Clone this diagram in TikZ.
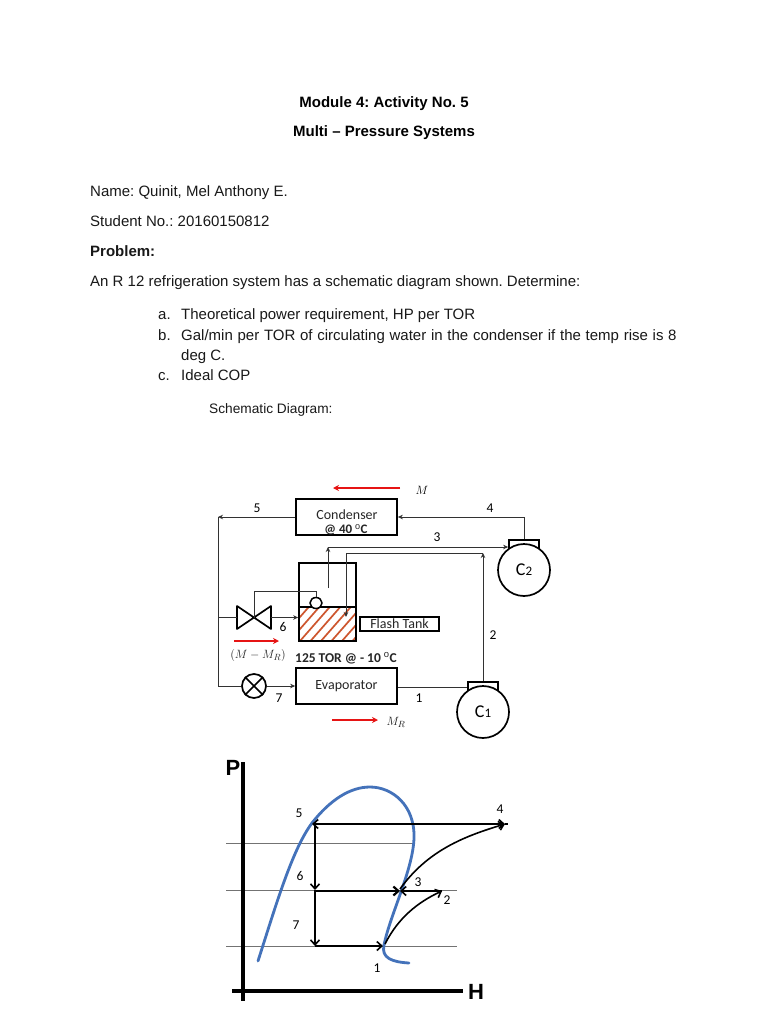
\documentclass[tikz,border=0pt]{standalone}
\usepackage{fontspec}
\setmainfont{Liberation Sans}
\newfontfamily\calfnt{Carlito}
\usetikzlibrary{arrows.meta,calc,shapes.geometric}
\definecolor{hatchc}{RGB}{205,85,45}
\definecolor{bluec}{RGB}{68,114,186}
\definecolor{redc}{RGB}{230,20,20}
\definecolor{linec}{RGB}{50,50,50}
\definecolor{txtc}{RGB}{25,25,25}
\frenchspacing
\tikzset{
 para/.style={anchor=base west,inner sep=0pt,font=\fontsize{15}{17}\selectfont,text=txtc},
 head/.style={anchor=base,inner sep=0pt,font=\fontsize{15}{17}\selectfont\bfseries,text=black},
 unitbox/.style={draw=black,line width=1.7pt,minimum width=101pt,minimum height=36pt,inner sep=0pt,font=\calfnt\fontsize{14}{14}\selectfont,text=black!85},
 lab/.style={inner sep=0pt,font=\calfnt\fontsize{13.5}{13.5}\selectfont,text=black},
 pipe/.style={draw=linec,line width=0.9pt},
 pipea/.style={pipe,-{Stealth[length=5pt,width=4.5pt]}},
 comp/.style={circle,draw=black,line width=1.7pt,minimum size=52pt,inner sep=0pt,font=\calfnt\fontsize{18}{18}\selectfont},
 capbox/.style={draw=black,line width=1.7pt,inner sep=0pt,minimum width=30pt,minimum height=10pt},
 redarrow/.style={draw=redc,line width=1.5pt,-{Stealth[length=6pt,width=6pt]}},
 thin line/.style={draw=black!55,line width=0.9pt},
 pharrow/.style={draw=black,line width=1.6pt,-{Straight Barb[length=5pt,width=9pt]}},
 bluecurve/.style={draw=bluec,line width=2.8pt,line cap=round},
 axisl/.style={draw=black,line width=3.2pt},
 axlab/.style={inner sep=0pt,font=\fontsize{22}{22}\selectfont\bfseries},
}
\begin{document}
\begin{tikzpicture}[x=1pt,y=-1pt]
\useasboundingbox (0,0) rectangle (768,1024);
\fill[white] (0,0) rectangle (768,1024);
% page text
\node[head] (t1) at (384,108) {Module 4: Activity No. 5};
\node[head] (t2) at (384,137) {Multi – Pressure Systems};
\node[para] (n1) at (90,197) {Name: Quinit, Mel Anthony E.};
\node[para] (n2) at (90,226) {Student No.: 20160150812};
\node[para,font=\fontsize{15}{17}\selectfont\bfseries] (n3) at (90,256) {Problem:};
\node[para] (n4) at (90,286) {An R 12 refrigeration system has a schematic diagram shown. Determine:};
\node[para] (a0) at (158,319) {a.};
\node[para] (a1) at (181,319) {Theoretical power requirement, HP per TOR};
\node[para] (b0) at (158,340) {b.};
\node[para] (b1) at (181,340) {\spaceskip=4.74pt Gal/min per TOR of circulating water in the condenser if the temp rise is 8};
\node[para] (b2) at (181,360) {deg C.};
\node[para] (c0) at (158,380) {c.};
\node[para] (c1) at (181,380) {Ideal COP};
\node[para,font=\fontsize{13.7}{15}\selectfont] (s1) at (209,413) {Schematic Diagram:};
% hatch
\begin{scope}
\clip (299,607) rectangle (356,641);
\foreach \k in {0,...,12}{
  \draw[hatchc,line width=1.7pt] ({265+\k*10.5},645) -- ({265+\k*10.5+42},597);
}
\end{scope}
% equipment
\node[unitbox] (cond) at (346.5,517) {};
\node[inner sep=0pt,font=\calfnt\fontsize{14}{14}\selectfont,text=black!85] (condt) at (347,515) {Condenser};
\node[inner sep=0pt,font=\calfnt\bfseries\fontsize{13}{13}\selectfont,text=black!85] (condt2) at (346,529.5) {@ 40 $^{\mathrm{o}}$C};
\node[unitbox] (evap) at (346.5,686) {Evaporator};
\node[inner sep=0pt,font=\calfnt\bfseries\fontsize{13.5}{14}\selectfont,text=black!85] (evapt) at (346,658) {125 TOR @ - 10 $^{\mathrm{o}}$C};
\node[draw=black,line width=1.7pt,minimum width=57pt,minimum height=78pt,inner sep=0pt] (tank) at (327.5,602) {};
\coordinate (lq1) at (299,607); \coordinate (lq2) at (356,607);
\draw[black,line width=1.5pt] (lq1) -- (lq2);
\node[draw=black,line width=1.5pt,ellipse,minimum width=12pt,minimum height=11pt,inner sep=0pt,fill=white] (flt) at (316,603) {};
\node[draw=black,line width=1.7pt,minimum width=79pt,minimum height=14pt,inner sep=0pt,font=\calfnt\fontsize{14}{14}\selectfont,text=black!85] (ftl) at (399.5,624) {Flash Tank};
\node[capbox] (cap2) at (524,545) {};
\node[comp,fill=white] (c2) at (524,570) {C\fontsize{13}{13}\selectfont 2};
\node[capbox] (cap1) at (483,687) {};
\node[comp,fill=white] (cc1) at (483,712) {C\fontsize{13}{13}\selectfont 1};
% valves
\coordinate (vc) at (254,617.5);
\draw[black,line width=1.7pt,line join=round] (vc) -- (237,606) -- (237,629) -- cycle;
\draw[black,line width=1.7pt,line join=round] (vc) -- (271,606) -- (271,629) -- cycle;
\coordinate (vl) at (237,617.5); \coordinate (vr) at (271,617.5);
\node[circle,draw=black,line width=1.7pt,minimum size=24pt,inner sep=0pt] (ev) at (254,686) {};
\draw[black,line width=1.7pt] (ev.north west) -- (ev.south east) (ev.north east) -- (ev.south west);
% piping
\coordinate (lt) at (218,517);
\coordinate (lb) at (218,686);
\coordinate (lm) at (218,617.5);
\coordinate (c4) at (524,517);
\coordinate (s3) at (328,588);
\coordinate (k3) at (328,547);
\coordinate (s2) at (346,617);
\coordinate (k2a) at (346,553);
\coordinate (k2) at (483,553);
\coordinate (st) at (254,591);
\coordinate (su) at (316,591);
\draw[pipea] (cond.west) -- (lt);
\draw[pipe] (lt) -- (lb) -- (ev.west);
\draw[pipea] (ev.east) -- (evap.west);
\draw[pipe] (lm) -- (vl);
\draw[pipea] (vr) -- (tank.west |- vr);
\draw[pipe] (vc) -- (st) -- (su) -- (flt.north);
\draw[pipe] (cap2.north) -- (c4);
\draw[pipea] (c4) -- (cond.east);
\draw[pipea] (s3) -- (k3);
\draw[pipea] (k3) -- (cap2.west |- k3);
\draw[pipea] (k2a) -- (s2);
\draw[pipe] (k2a) -- (k2);
\draw[pipea] (cap1.north) -- (k2);
\draw[pipe] (evap.east |- cap1.west) -- (cap1.west);
% numbers
\node[lab] (l5) at (257,508) {5};
\node[lab] (l4) at (490,508) {4};
\node[lab] (l3) at (437,537) {3};
\node[lab] (l2) at (493,635) {2};
\node[lab] (l6) at (283,627) {6};
\node[lab] (l7) at (279,698) {7};
\node[lab] (l1) at (419,698) {1};
% flows
\coordinate (ma) at (400,488); \coordinate (mb) at (333,488);
\draw[redarrow] (ma) -- (mb);
\node[inner sep=0pt,font=\fontsize{13}{13}\selectfont] (ml) at (422,490) {$M$};
\coordinate (mc) at (234,641); \coordinate (md) at (279,641);
\draw[redarrow] (mc) -- (md);
\node[inner sep=0pt,font=\fontsize{12.5}{12.5}\selectfont,text=black!85] (mml) at (258,655) {$(M-M_R)$};
\coordinate (me) at (332,720); \coordinate (mf) at (378,720);
\draw[redarrow] (me) -- (mf);
\node[inner sep=0pt,font=\fontsize{13}{13}\selectfont,text=black!90] (mrl) at (396,722) {$M_R$};
% P-H chart
\coordinate (pt) at (243,762); \coordinate (pb) at (243,1001);
\coordinate (hl) at (232,991); \coordinate (hr) at (463,991);
\coordinate (h1a) at (226,843); \coordinate (h1b) at (413,843);
\coordinate (h2a) at (226,890); \coordinate (h2b) at (457,890);
\coordinate (h3a) at (226,946); \coordinate (h3b) at (457,946);
\draw[thin line] (h1a) -- (h1b);
\draw[thin line] (h2a) -- (h2b);
\draw[thin line] (h3a) -- (h3b);
\draw[axisl] (pt) -- (pb);
\draw[axisl] (hl) -- (hr);
\node[axlab] (pl) at (233,768) {P};
\node[axlab] (hlb) at (476,992) {H};
\draw[bluecurve] (258,961) .. controls (276,905) and (292,850) .. (312,823)
  .. controls (330,800) and (350,787) .. (370,787)
  .. controls (392,787) and (415,805) .. (414,838)
  .. controls (413,870) and (390,915) .. (384,945)
  .. controls (381,958) and (392,962) .. (409,963);
\coordinate (p5) at (312,824); \coordinate (p4) at (505,824); \coordinate (p4e) at (508,824);
\coordinate (v5) at (315,824); \coordinate (v6) at (315,890); \coordinate (v7) at (315,946);
\coordinate (p3) at (400,891); \coordinate (p2) at (442,891); \coordinate (m6) at (315,891);
\coordinate (p1) at (383,946); \coordinate (q1) at (385,944); \coordinate (q3) at (400,889);
\draw[pharrow] (v5) -- (p5);
\draw[pharrow] (v5) -- (p4);
\draw[draw=black,line width=1.6pt] (p4) -- (p4e);
\draw[pharrow] (v5) -- (v6);
\draw[pharrow] (v6) -- (v7);
\draw[pharrow,line width=2.2pt] (m6) -- (p3);
\draw[pharrow] (p2) -- (p3);
\draw[pharrow] (v7) -- (p1);
\draw[pharrow] (q1) .. controls (398,918) and (418,902) .. (p2);
\draw[pharrow] (q3) .. controls (428,850) and (465,836) .. (p4);
\node[lab] (g5) at (299,813) {5};
\node[lab] (g4) at (500,809) {4};
\node[lab] (g6) at (300,876) {6};
\node[lab] (g3) at (418,882) {3};
\node[lab] (g2) at (447,900) {2};
\node[lab] (g7) at (296,925) {7};
\node[lab] (g1) at (377,968) {1};
\end{tikzpicture}
\end{document}
